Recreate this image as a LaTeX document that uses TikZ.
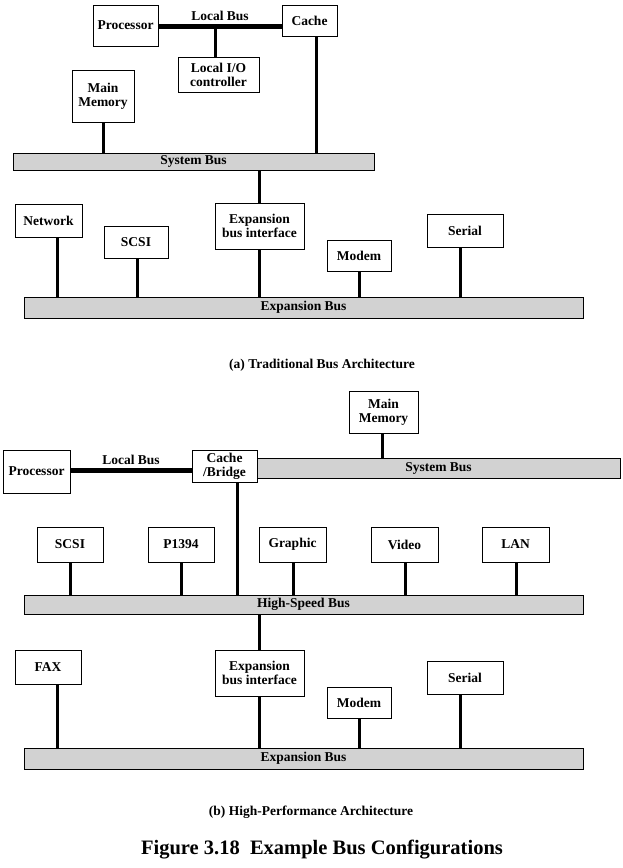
\documentclass[tikz,border=0pt]{standalone}
\usepackage{fontspec}
\setmainfont{Liberation Serif}
\tikzset{
  box/.style={draw, thick, fill=white, align=center, inner sep=0pt, font=\bfseries\fontsize{13.5}{14}\selectfont},
  bus/.style={draw, thick, fill=gray!35, inner sep=0pt, font=\bfseries\fontsize{13.5}{14}\selectfont},
  wire/.style={line width=3pt},
  lbus/.style={line width=5pt},
  lbl/.style={font=\bfseries\fontsize{13.5}{14}\selectfont}
}
\begin{document}
\begin{tikzpicture}[x=1pt,y=-1pt]
\useasboundingbox (0,0) rectangle (623,868);

% (a) Traditional
\node[box, minimum width=65, minimum height=41] (procA) at (125.5,25.5) {Processor};
\node[box, minimum width=55, minimum height=31] (cacheA) at (309.5,20.5) {Cache};
\node[box, minimum width=81, minimum height=35] (lioA) at (218.5,74.5) {Local I/O\\controller};
\node[box, minimum width=62, minimum height=52] (memA) at (103,96) {Main\\Memory};
\node[bus, minimum width=361, minimum height=17] (sysA) at (193.5,161.5) {System Bus};
\node[box, minimum width=67, minimum height=33] (netA) at (48.5,220.5) {Network};
\node[box, minimum width=64, minimum height=32] (scsiA) at (136,242) {SCSI};
\node[box, minimum width=89, minimum height=46] (ebiA) at (259.5,226) {Expansion\\bus interface};
\node[box, minimum width=64, minimum height=31] (modemA) at (359,255.5) {Modem};
\node[box, minimum width=76, minimum height=33] (serA) at (465,230.5) {Serial};
\node[bus, minimum width=559, minimum height=21] (expA) at (303.5,307.5) {Expansion Bus};

\draw[lbus] (procA.east |- 0,26) -- (cacheA.west |- 0,26) node[lbl, midway, above=0pt] {Local Bus};
\draw[wire] (215,26) -- (lioA.north -| 215,0);
\draw[wire] (memA.south) -- (memA.south |- sysA.north);
\draw[wire] (cacheA.south -| 316,0) -- (sysA.north -| 316,0);
\draw[wire] (sysA.south -| 259,0) -- (ebiA.north -| 259,0);
\draw[wire] (netA.south -| 57,0) -- (expA.north -| 57,0);
\draw[wire] (scsiA.south -| 137,0) -- (expA.north -| 137,0);
\draw[wire] (ebiA.south -| 259,0) -- (expA.north -| 259,0);
\draw[wire] (modemA.south) -- (modemA.south |- expA.north);
\draw[wire] (serA.south -| 460,0) -- (expA.north -| 460,0);
\node[lbl] (capA) at (322,365) {(a) Traditional Bus Architecture};

% (b) High-Performance
\node[box, minimum width=69, minimum height=42] (memB) at (383.5,412) {Main\\Memory};
\node[bus, minimum width=363, minimum height=20] (sysB) at (438.5,468) {System Bus};
\node[box, minimum width=67, minimum height=43] (procB) at (36.5,471.5) {Processor};
\node[box, minimum width=65, minimum height=32] (cacheB) at (224.5,466) {Cache\\/Bridge};
\node[box, minimum width=66, minimum height=35] (scsiB) at (70,544.5) {SCSI};
\node[box, minimum width=66, minimum height=35] (pB) at (181,544.5) {P1394};
\node[box, minimum width=67, minimum height=35] (grB) at (292.5,544.5) {Graphic};
\node[box, minimum width=67, minimum height=35] (vidB) at (404.5,544.5) {Video};
\node[box, minimum width=67, minimum height=35] (lanB) at (515.5,544.5) {LAN};
\node[bus, minimum width=559, minimum height=19] (hsB) at (303.5,604.5) {High-Speed Bus};
\node[box, minimum width=66, minimum height=34] (faxB) at (48,667) {FAX};
\node[box, minimum width=89, minimum height=46] (ebiB) at (259.5,673) {Expansion\\bus interface};
\node[box, minimum width=64, minimum height=31] (modemB) at (359,702.5) {Modem};
\node[box, minimum width=76, minimum height=33] (serB) at (465,677.5) {Serial};
\node[bus, minimum width=559, minimum height=21] (expB) at (303.5,758.5) {Expansion Bus};

\draw[wire] (memB.south -| 382,0) -- (sysB.north -| 382,0);
\draw[lbus] (procB.east |- 0,470) -- (cacheB.west |- 0,470) node[lbl, midway, above=0pt] {Local Bus};
\draw[wire] (cacheB.south -| 237,0) -- (hsB.north -| 237,0);
\draw[wire] (scsiB.south) -- (scsiB.south |- hsB.north);
\draw[wire] (pB.south) -- (pB.south |- hsB.north);
\draw[wire] (grB.south -| 293,0) -- (hsB.north -| 293,0);
\draw[wire] (vidB.south -| 405,0) -- (hsB.north -| 405,0);
\draw[wire] (lanB.south -| 516,0) -- (hsB.north -| 516,0);
\draw[wire] (hsB.south -| 259,0) -- (ebiB.north -| 259,0);
\draw[wire] (faxB.south -| 57,0) -- (expB.north -| 57,0);
\draw[wire] (ebiB.south -| 259,0) -- (expB.north -| 259,0);
\draw[wire] (modemB.south) -- (modemB.south |- expB.north);
\draw[wire] (serB.south -| 460,0) -- (expB.north -| 460,0);
\node[lbl] (capB) at (311,812) {(b) High-Performance Architecture};

\node[font=\bfseries\fontsize{20.5}{22}\selectfont] (title) at (322,850) {Figure 3.18\ \ Example Bus Configurations};
\end{tikzpicture}
\end{document}
